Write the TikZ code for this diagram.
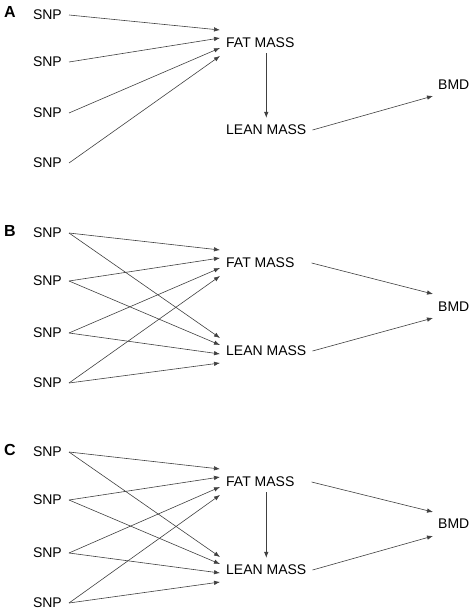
\documentclass[tikz,border=0pt]{standalone}
\usepackage{fontspec}
\setmainfont{Liberation Sans}
\usetikzlibrary{arrows.meta,calc}
\begin{document}
\begin{tikzpicture}[x=1pt,y=-1pt,
  lbl/.style={inner sep=0pt, font=\fontsize{14}{16}\selectfont, text=black},
  panel/.style={inner sep=0pt, font=\fontsize{16}{18}\selectfont\bfseries, text=black},
  arr/.style={draw=black!75, line width=0.6pt, -{Latex[length=6pt,width=4.5pt]}}]
\useasboundingbox (0,0) rectangle (474,612);

% ---------- Panel A ----------
\node[panel] (pA) at (10,12) {A};
\foreach \i/\y in {1/15,2/62,3/113,4/163}
  \node[lbl,anchor=east] (snpA\i) at (62,\y) {SNP};
\node[lbl,anchor=west] (fatA) at (226,43) {FAT MASS};
\node[lbl,anchor=west] (leanA) at (226,130) {LEAN MASS};
\node[lbl,anchor=west] (bmdA) at (438,85) {BMD};
\foreach \i/\d in {1/-13,2/-5,3/5,4/13}
  \draw[arr] ($(snpA\i.east)+(7,0)$) -- ($(fatA.west)+(-6,\d)$);
\draw[arr] ($(fatA.south -| leanA.north)+(0,5)$) -- ($(leanA.north)+(0,-7)$);
\draw[arr] ($(leanA.east)+(6,0)$) -- ($(bmdA.west)+(-5,11)$);

% ---------- Panel B ----------
\node[panel] (pB) at (10,231) {B};
\foreach \i/\y in {1/233,2/281,3/333,4/383}
  \node[lbl,anchor=east] (snpB\i) at (62,\y) {SNP};
\node[lbl,anchor=west] (fatB) at (226,263) {FAT MASS};
\node[lbl,anchor=west] (leanB) at (226,351) {LEAN MASS};
\node[lbl,anchor=west] (bmdB) at (438,307) {BMD};
\foreach \i/\d/\e in {1/-13/-13,2/-5/-6,3/5/3,4/13/12}{
  \draw[arr] ($(snpB\i.east)+(7,0)$) -- ($(fatB.west)+(-6,\d)$);
  \draw[arr] ($(snpB\i.east)+(7,0)$) -- ($(leanB.west)+(-6,\e)$);
}
\draw[arr] ($(fatB.east)+(17,0)$) -- ($(bmdB.west)+(-5,-13)$);
\draw[arr] ($(leanB.east)+(6,0)$) -- ($(bmdB.west)+(-5,11)$);

% ---------- Panel C ----------
\node[panel] (pC) at (10,450) {C};
\foreach \i/\y in {1/452,2/500,3/553,4/603}
  \node[lbl,anchor=east] (snpC\i) at (62,\y) {SNP};
\node[lbl,anchor=west] (fatC) at (226,482) {FAT MASS};
\node[lbl,anchor=west] (leanC) at (226,570) {LEAN MASS};
\node[lbl,anchor=west] (bmdC) at (438,524) {BMD};
\foreach \i/\d/\e in {1/-13/-13,2/-5/-6,3/5/3,4/13/12}{
  \draw[arr] ($(snpC\i.east)+(7,0)$) -- ($(fatC.west)+(-6,\d)$);
  \draw[arr] ($(snpC\i.east)+(7,0)$) -- ($(leanC.west)+(-6,\e)$);
}
\draw[arr] ($(fatC.south -| leanC.north)+(0,5)$) -- ($(leanC.north)+(0,-7)$);
\draw[arr] ($(fatC.east)+(17,0)$) -- ($(bmdC.west)+(-5,-12)$);
\draw[arr] ($(leanC.east)+(6,0)$) -- ($(bmdC.west)+(-5,12)$);
\end{tikzpicture}
\end{document}
